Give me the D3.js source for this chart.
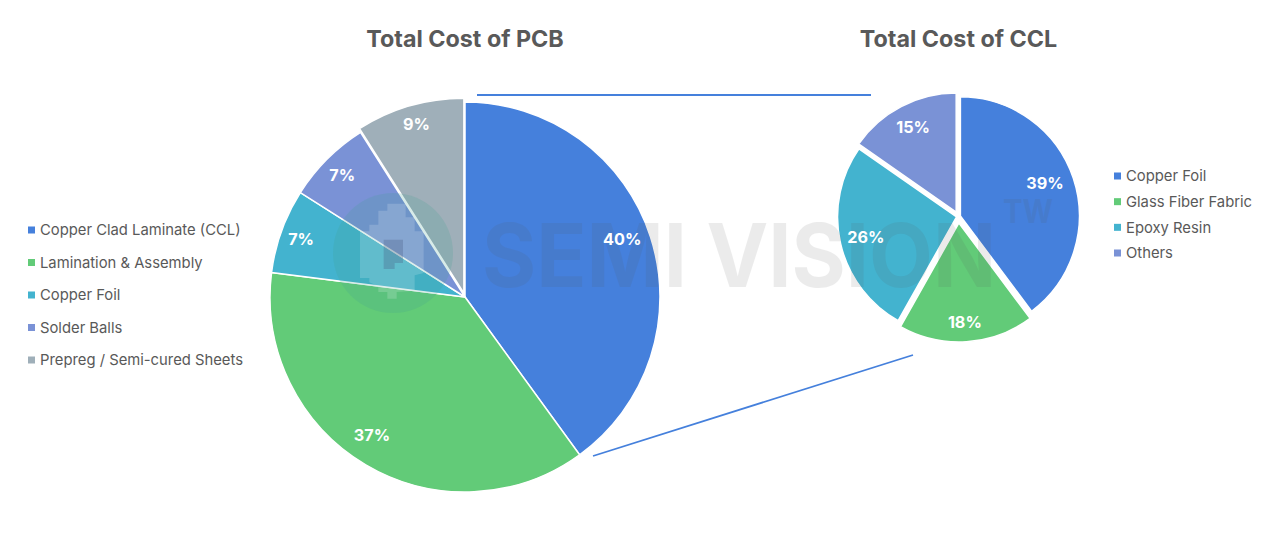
<!DOCTYPE html>
<html>
<head>
<meta charset="utf-8">
<script src="https://cdnjs.cloudflare.com/ajax/libs/d3/7.8.5/d3.min.js"></script>
<style>
	html, body { margin: 0; padding: 0; background: #fff; }
	svg { display: block; }
	text { font-family: Inter, "Noto Sans", sans-serif; }
</style>
</head>
<body>
<div id="chart"></div>
<script>
var width = 1279;
var height = 535;

// total cost of PCB
var pcbCategories = ["Copper Clad Laminate (CCL)", "Lamination & Assembly", "Copper Foil", "Solder Balls", "Prepreg / Semi-cured Sheets"];
var pcbValues = [40, 37, 7, 7, 9];

// total cost of CCL (labels as printed, they add up to 98)
var cclCategories = ["Copper Foil", "Glass Fiber Fabric", "Epoxy Resin", "Others"];
var cclValues = [39, 18, 26, 15];

var colors = ["#4580dc", "#62cb78", "#43b3cf", "#7a92d6", "#9fafb9"];
var cclColors = ["#4580dc", "#62cb78", "#43b3cf", "#7a92d6"];

var svg = d3.select("#chart").append("svg")
	.attr("width", width)
	.attr("height", height);

var sliceLayer = svg.append("g");
var markLayer = svg.append("g");
var labelLayer = svg.append("g");

function drawPie(opts){
	var pie = d3.pie().sort(null).value(function(d){ return d; });
	var arc = d3.arc().innerRadius(0).outerRadius(opts.radius);
	var labelArc = d3.arc().innerRadius(opts.labelRadius).outerRadius(opts.labelRadius);
	var arcs = pie(opts.values);

	function offset(d, i){
		var mid = (d.startAngle + d.endAngle) / 2;
		var e = opts.explode[i];
		return [Math.sin(mid) * e, -Math.cos(mid) * e];
	}

	sliceLayer.append("g")
		.attr("transform", "translate(" + opts.cx + "," + opts.cy + ")")
		.selectAll("path")
		.data(arcs)
		.enter().append("path")
		.attr("d", arc)
		.attr("fill", function(d, i){ return opts.colors[i]; })
		.attr("stroke", "#fff")
		.attr("stroke-width", 1.5)
		.attr("transform", function(d, i){
			var o = offset(d, i);
			return "translate(" + o[0] + "," + o[1] + ")";
		});

	labelLayer.append("g")
		.attr("transform", "translate(" + opts.cx + "," + opts.cy + ")")
		.selectAll("text")
		.data(arcs)
		.enter().append("text")
		.attr("transform", function(d, i){
			var c = labelArc.centroid(d);
			var o = offset(d, i);
			var n = opts.labelNudge[i];
			return "translate(" + (c[0] + o[0] + n[0]) + "," + (c[1] + o[1] + n[1]) + ")";
		})
		.attr("text-anchor", "middle")
		.attr("dy", "0.36em")
		.attr("font-size", 16.2)
		.attr("font-weight", 700)
		.attr("fill", "#fff")
		.text(function(d){ return d.data + "%"; });

	labelLayer.append("text")
		.attr("x", opts.cx)
		.attr("y", 47)
		.attr("text-anchor", "middle")
		.attr("font-size", 23.3)
		.attr("font-weight", 700)
		.attr("fill", "#595959")
		.text(opts.title);
}

function drawLegend(names, cols, x, ys){
	var g = labelLayer.append("g");
	var rows = g.selectAll("g")
		.data(names)
		.enter().append("g")
		.attr("transform", function(d, i){ return "translate(" + x + "," + ys(i) + ")"; });
	rows.append("rect")
		.attr("x", 0)
		.attr("y", -3.5)
		.attr("width", 7)
		.attr("height", 7)
		.attr("fill", function(d, i){ return cols[i]; });
	rows.append("text")
		.attr("x", 12)
		.attr("dy", "0.36em")
		.attr("font-size", 14.8)
		.attr("fill", "#595959")
		.text(function(d){ return d; });
}

// faint logo and wordmark laid across the chart
function drawWatermark(){
	var logo = markLayer.append("g").attr("transform", "translate(393,253)");
	logo.append("circle").attr("r", 60).attr("fill", "#3f9f8f").attr("opacity", 0.2);

	var steps = [[188,57],[243,57],[243,98],[270,98],[270,140],[297,140],[297,265],[270,272],[270,318],[216,322],[216,342],[188,342],[188,322],[161,322],[161,305],[134,293],[134,280],[106,280],[106,140],[134,140],[134,120],[161,120],[161,78],[188,78]];
	var block = [[177,165],[235,165],[235,235],[210,235],[210,253],[177,253]];
	var toLogo = d3.line()
		.x(function(p){ return (p[0] - 205) / 3; })
		.y(function(p){ return (p[1] - 205) / 3; })
		.curve(d3.curveLinearClosed);
	logo.append("path").attr("d", toLogo(steps)).attr("fill", "#fff").attr("opacity", 0.17);
	logo.append("path").attr("d", toLogo(block)).attr("fill", "#4a5a80").attr("opacity", 0.3);

	markLayer.append("text")
		.attr("x", 482)
		.attr("y", 287)
		.attr("font-size", 88)
		.attr("font-weight", 700)
		.attr("fill", "#555")
		.attr("opacity", 0.11)
		.attr("textLength", 514)
		.attr("lengthAdjust", "spacingAndGlyphs")
		.text("SEMI VISION");
	markLayer.append("text")
		.attr("x", 1003)
		.attr("y", 223)
		.attr("font-size", 32)
		.attr("font-weight", 700)
		.attr("fill", "#555")
		.attr("opacity", 0.11)
		.attr("textLength", 50)
		.attr("lengthAdjust", "spacingAndGlyphs")
		.text("TW");
}

drawPie({
	title: "Total Cost of PCB",
	values: pcbValues,
	colors: colors,
	cx: 465,
	cy: 297,
	radius: 195,
	labelRadius: 170,
	explode: [0, 0, 0, 0, 4],
	labelNudge: [[-4.5, -5], [-6.5, -8], [-4, 0], [-2.5, -2], [0, -6]]
});

drawPie({
	title: "Total Cost of CCL",
	values: cclValues,
	colors: cclColors,
	cx: 958.5,
	cy: 216.5,
	radius: 119,
	labelRadius: 93,
	explode: [2, 6.5, 2, 5],
	labelNudge: [[-3.7, -3.5], [0, 6.2], [0, -0.5], [0, -2.5]]
});

drawWatermark();

drawLegend(pcbCategories, colors, 28, d3.scaleLinear().domain([0, 4]).range([230, 360]));
drawLegend(cclCategories, cclColors, 1114, d3.scaleLinear().domain([0, 3]).range([176, 253]));

// connector between the two pies
var connectors = [
	[[477, 95], [871, 95]],
	[[593, 456], [913, 355]]
];
svg.append("g").selectAll("path")
	.data(connectors)
	.enter().append("path")
	.attr("d", d3.line())
	.attr("fill", "none")
	.attr("stroke", "#4580dc")
	.attr("stroke-width", 1.8);
</script>
</body>
</html>
